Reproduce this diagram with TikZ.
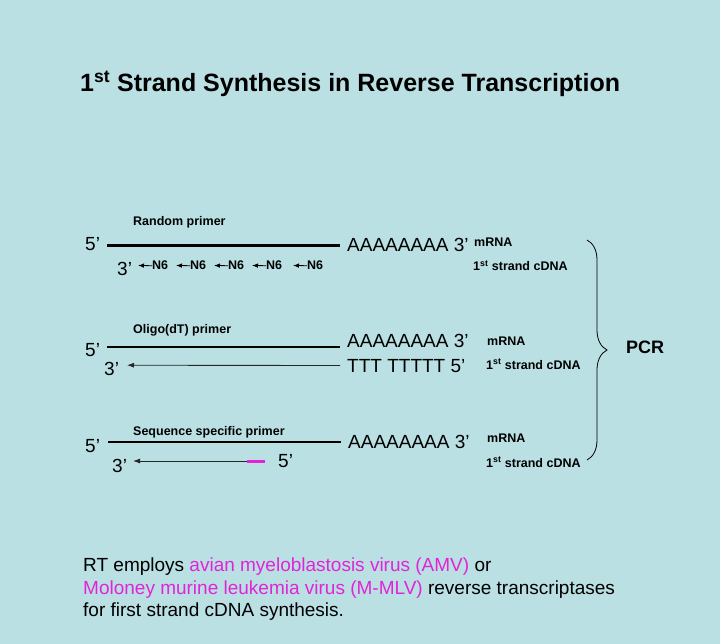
\documentclass[tikz,border=0pt]{standalone}
\usepackage{fontspec}
\setmainfont{Liberation Sans}
\usepackage{xcolor}
\usepackage{tikz}
\usetikzlibrary{arrows.meta,decorations.pathreplacing}
\definecolor{slide}{RGB}{186,224,227}
\definecolor{virus}{RGB}{226,36,216}

\begin{document}
\begin{tikzpicture}[x=1pt,y=-1pt]
	\tikzstyle{big}=[inner sep=0pt, anchor=base west, font=\fontsize{19}{23}\selectfont]
	\tikzstyle{tag}=[inner sep=0pt, anchor=base west, font=\bfseries\fontsize{12.5}{15}\selectfont]
	\tikzstyle{mrna}=[line width=2.5pt, draw=black]
	\tikzstyle{cdna}=[-{Latex[length=7pt,width=5pt]}, line width=0.9pt, draw=black!85]
	\tikzstyle{n6edge}=[-{Latex[length=6pt,width=4.5pt]}, line width=0.8pt, draw=black]
	\tikzstyle{primerbar}=[line width=3pt, draw=virus]

    \fill[slide] (0,0) rectangle (720,644);
    \useasboundingbox (0,0) rectangle (720,644);

    \node[inner sep=0pt, anchor=base west, font=\bfseries\fontsize{25}{30}\selectfont] (title) at (80,92)
        {1\textsuperscript{st} Strand Synthesis in Reverse Transcription};

    % random primer
    \node[tag] (rp) at (133,226) {Random primer};
    \node[big] (r1five) at (85,251) {5’};
    \coordinate (r1a) at (107,245.5);
    \coordinate (r1b) at (340,245.5);
    \draw[mrna] (r1a) -- (r1b);
    \node[big] (r1polyA) at (347,252) {AAAAAAAA 3’};
    \node[tag] (r1mrna) at (474,247) {mRNA};
    \node[big] (r1three) at (117,276) {3’};
    \foreach \x [count=\i] in {152,190,228,266,307} {
        \node[tag] (N6-\i) at (\x,270) {N6};
        \coordinate (N6tip-\i) at (\x-14,265.5);
        \draw[n6edge] (N6-\i.west) -- (N6tip-\i);
    }
    \node[tag] (r1cdna) at (473,271) {1\textsuperscript{st} strand cDNA};

    % oligo(dT) primer
    \node[tag] (op) at (133,334) {Oligo(dT) primer};
    \node[big] (r2five) at (85,356) {5’};
    \coordinate (r2a) at (107,347);
    \coordinate (r2b) at (340,347);
    \draw[mrna] (r2a) -- (r2b);
    \node[big] (r2polyA) at (347,347) {AAAAAAAA 3’};
    \node[big] (r2three) at (104,375) {3’};
    \node[big] (r2polyT) at (347,372) {TTT TTTTT 5’};
    \coordinate (r2tip) at (127,365.2);
    \draw[cdna, shorten <=7pt] (r2polyT.west) -- (r2tip);
    \node[tag] (r2mrna) at (487,345) {mRNA};
    \node[tag] (r2cdna) at (486,369) {1\textsuperscript{st} strand cDNA};

    % sequence specific primer
    \node[tag] (sp) at (133,435) {Sequence specific primer};
    \node[big] (r3five) at (85,452) {5’};
    \coordinate (r3a) at (108,442);
    \coordinate (r3b) at (341,442);
    \draw[mrna] (r3a) -- (r3b);
    \node[big] (r3polyA) at (348,448) {AAAAAAAA 3’};
    \node[big] (r3three) at (112,472) {3’};
    \coordinate (r3p) at (247,461);
    \coordinate (r3q) at (265,461);
    \coordinate (r3tip) at (133,461);
    \draw[cdna] (r3p) -- (r3tip);
    \draw[primerbar] (r3p) -- (r3q);
    \node[big] (r3fiveb) at (278,467) {5’};
    \node[tag] (r3mrna) at (487,442) {mRNA};
    \node[tag] (r3cdna) at (486,467) {1\textsuperscript{st} strand cDNA};

    % PCR brace
    \coordinate (btop) at (587,240);
    \coordinate (bbot) at (587,460);
    \draw[decorate, decoration={brace, amplitude=20pt}, line width=0.8pt] (btop) -- (bbot);
    \node[inner sep=0pt, anchor=base west, font=\bfseries\fontsize{18}{22}\selectfont] (pcr) at (626,353) {PCR};

    \node[big] (rt1) at (83,571) {RT employs \textcolor{virus}{avian myeloblastosis virus (AMV)} or};
    \node[big] (rt2) at (83,594) {\textcolor{virus}{Moloney murine leukemia virus (M-MLV)} reverse transcriptases};
    \node[big] (rt3) at (83,616) {for first strand cDNA synthesis.};
\end{tikzpicture}
\end{document}
